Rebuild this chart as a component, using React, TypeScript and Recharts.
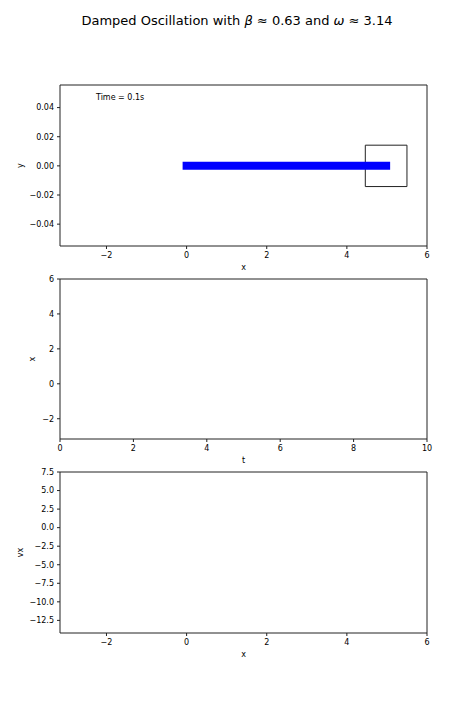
import React from 'react'
import {
  ComposedChart,
  Line,
  XAxis,
  YAxis,
  ReferenceArea,
  ReferenceLine,
  Label,
} from 'recharts'

// spring + mass snapshot at t = 0.1s
const springX = [0, 4.98]
const springY = [0, 0]
const massX = [4.46, 5.5]
const massY = [-0.0142, 0.0142]

// trajectory so far (only the start point, nothing visible yet)
const trajT = [0]
const trajX = [5]
const phaseX = [5]
const phaseVx = [0]

const posTicks = [-2, 0, 2, 4, 6]
const yTicks = [-0.04, -0.02, 0, 0.02, 0.04]
const tTicks = [0, 2, 4, 6, 8, 10]
const xtTicks = [-2, 0, 2, 4, 6]
const vxTicks = [-12.5, -10, -7.5, -5, -2.5, 0, 2.5, 5, 7.5]

const springData = springX.map((x, i) => ({ x, y: springY[i] }))
const trajData = trajT.map((t, i) => ({ t, x: trajX[i] }))
const phaseData = phaseX.map((x, i) => ({ x, vx: phaseVx[i] }))

const FONT = 'DejaVu Sans, sans-serif'
const INK = '#222'
const W = 474
const MARGIN = { top: 10, right: 47, bottom: 0, left: 0 }
const tick = { fontSize: 8, fill: '#000', fontFamily: FONT }

const minus = (s: string) => s.replace('-', '\u2212')
const fmt = (d: number) => (v: number) => minus(v.toFixed(d))

const xLabel = (value: string) => (props: any) => {
  const vb = props.viewBox || { x: 60, y: 0, width: 367, height: 30 }
  return (
    <text x={vb.x + vb.width / 2} y={vb.y + 24} textAnchor="middle" fontSize={8} fontFamily={FONT} fill="#000">
      {value}
    </text>
  )
}

const yLabel = (value: string, bx: number) => (props: any) => {
  const vb = props.viewBox || { x: 0, y: 10, width: 60, height: 160 }
  const cy = vb.y + vb.height / 2
  return (
    <text x={bx} y={cy} transform={`rotate(-90, ${bx}, ${cy})`} textAnchor="middle" fontSize={8} fontFamily={FONT} fill="#000">
      {value}
    </text>
  )
}

const axisCommon = {
  tick,
  tickSize: 3,
  tickMargin: 3,
  stroke: INK,
  axisLine: { stroke: INK },
  tickLine: { stroke: INK },
  allowDataOverflow: true,
}

export default function App() {
  return (
    <div style={{ position: 'absolute', left: 0, top: 0, width: W, height: 711, background: '#fff', fontFamily: FONT }}>
      <div style={{ position: 'absolute', top: 13, left: 0, width: W, textAlign: 'center', fontSize: 13, lineHeight: '16px' }}>
        Damped Oscillation with <i>β</i> ≈ 0.63 and <i>ω</i> ≈ 3.14
      </div>

      <div style={{ position: 'absolute', top: 75, left: 0 }}>
        <ComposedChart width={W} height={201} data={springData} margin={MARGIN}>
          <XAxis {...axisCommon} dataKey="x" type="number" domain={[-3.16, 6]} ticks={posTicks} tickFormatter={fmt(0)} height={30}>
            <Label content={xLabel('x')} />
          </XAxis>
          <YAxis {...axisCommon} type="number" domain={[-0.055, 0.0555]} ticks={yTicks} tickFormatter={fmt(2)} width={60}>
            <Label content={yLabel('y', 23)} />
          </YAxis>
          <ReferenceLine y={0.0555} stroke={INK} />
          <ReferenceLine x={6} stroke={INK} />
          <Line dataKey="y" type="linear" stroke="#0000ff" strokeWidth={8} strokeLinecap="square" dot={false} isAnimationActive={false} />
          <ReferenceArea x1={massX[0]} x2={massX[1]} y1={massY[0]} y2={massY[1]} fill="none" fillOpacity={0} stroke={INK} strokeWidth={1} />
        </ComposedChart>
      </div>
      <div style={{ position: 'absolute', top: 93, left: 96, fontSize: 8, lineHeight: '10px' }}>Time = 0.1s</div>

      <div style={{ position: 'absolute', top: 269, left: 0 }}>
        <ComposedChart width={W} height={200} data={trajData} margin={MARGIN}>
          <XAxis {...axisCommon} dataKey="t" type="number" domain={[0, 10]} ticks={tTicks} tickFormatter={fmt(0)} height={30}>
            <Label content={xLabel('t')} />
          </XAxis>
          <YAxis {...axisCommon} type="number" domain={[-3.16, 6]} ticks={xtTicks} tickFormatter={fmt(0)} width={60}>
            <Label content={yLabel('x', 35)} />
          </YAxis>
          <ReferenceLine y={6} stroke={INK} />
          <ReferenceLine x={10} stroke={INK} />
          <Line dataKey="x" type="linear" stroke="#1f77b4" dot={false} activeDot={false} hide isAnimationActive={false} />
        </ComposedChart>
      </div>

      <div style={{ position: 'absolute', top: 462, left: 0 }}>
        <ComposedChart width={W} height={201} data={phaseData} margin={MARGIN}>
          <XAxis {...axisCommon} dataKey="x" type="number" domain={[-3.16, 6]} ticks={posTicks} tickFormatter={fmt(0)} height={30}>
            <Label content={xLabel('x')} />
          </XAxis>
          <YAxis {...axisCommon} type="number" domain={[-14.2, 7.5]} ticks={vxTicks} tickFormatter={fmt(1)} width={60}>
            <Label content={yLabel('vx', 23)} />
          </YAxis>
          <ReferenceLine y={7.5} stroke={INK} />
          <ReferenceLine x={6} stroke={INK} />
          <Line dataKey="vx" type="linear" stroke="#1f77b4" dot={false} activeDot={false} hide isAnimationActive={false} />
        </ComposedChart>
      </div>
    </div>
  )
}
